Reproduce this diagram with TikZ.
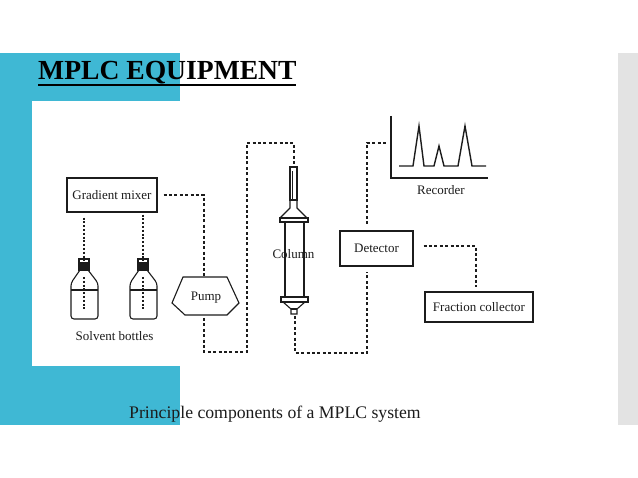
\documentclass[tikz,border=0pt]{standalone}
\usepackage{fontspec}
\setmainfont{Liberation Serif}
\definecolor{band}{HTML}{3FB8D4}
\definecolor{sidebar}{HTML}{E3E3E3}
\definecolor{ink}{HTML}{1C1C1C}
\tikzset{
	lbl/.style={inner sep=0pt, text=ink, font=\fontsize{13}{15}\selectfont},
	box/.style={draw=ink, line width=1.1pt, minimum height=#1, inner sep=0pt},
	link/.style={draw=ink, line width=1.1pt, dash pattern=on 3pt off 2.4pt},
	tight/.style={draw=ink, line width=1.5pt, dash pattern=on 2pt off 1.8pt},
	part/.style={draw=ink, line width=1.1pt}
}
\begin{document}
\begin{tikzpicture}[x=1pt,y=-1pt]
		\useasboundingbox (0,0) rectangle (638,478);

		% slide background
		\fill[white] (0,0) rectangle (638,478);
		\fill[band] (0,53) rectangle (180,101);
		\fill[band] (0,53) rectangle (32,425);
		\fill[band] (0,366) rectangle (180,425);
		\fill[sidebar] (618,53) rectangle (638,425);

		\node[anchor=base west, inner sep=0pt, font=\fontsize{27.6}{30}\selectfont\bfseries] (title) at (38,80) {MPLC EQUIPMENT};
		\draw[line width=2pt] (38,85) -- (296,85);
		\node[anchor=base west, inner sep=0pt, text=ink, font=\fontsize{17.7}{20}\selectfont] (caption) at (129,419) {Principle components of a MPLC system};

		% boxes
		\node[box=34pt, minimum width=90pt, lbl] (mixer) at (112,195) {Gradient mixer};
		\node[box=35pt, minimum width=73pt, lbl] (detector) at (376.5,248.5) {Detector};
		\node[box=30pt, minimum width=108pt, lbl] (collector) at (479,307) {Fraction collector};

		% pump
		\node[lbl] (pump) at (206,298) {Pump};
		\draw[part] (183,277) -- (227,277) -- (239,303) -- (227,315) -- (185,315) -- (172,303) -- cycle;
		\coordinate (pumpin) at (204,277);
		\coordinate (pumpout) at (204,318);

		% bottles
		\foreach \name/\x in {bottleA/84, bottleB/143} {
			\coordinate (\name) at (\x,259);
			\coordinate (\name low) at (\x,277);
			\coordinate (\name end) at (\x,310);
			\fill[ink] (\x-5,262) rectangle (\x+5,270);
			\draw[part] (\x-5,259) rectangle (\x+5,270);
			\draw[part, rounded corners=3pt] (\x-4,270) -- (\x-13,283) -- (\x-13,319) -- (\x+14,319) -- (\x+14,283) -- (\x+4,270);
			\draw[part] (\x-13,290) -- (\x+14,290);
			\draw[tight] (\name low) -- (\name end);
		}
		\node[lbl] (solvent) at (114.5,336) {Solvent bottles};

		% column
		\coordinate (coltop) at (294,165);
		\coordinate (colend) at (295,316);
		\draw[part] (290,167) rectangle (297,200);
		\draw[part] (292.5,171) -- (292.5,200);
		\draw[part] (290,200) -- (290,208) -- (280,218);
		\draw[part] (297,200) -- (297,208) -- (307,218);
		\draw[part] (280,218) rectangle (308,222);
		\draw[part] (285,222) -- (285,297);
		\draw[part] (304,222) -- (304,297);
		\draw[part] (281,297) rectangle (308,302);
		\draw[part] (283,302) -- (291,309) -- (291,314) -- (297,314) -- (297,309) -- (305,302);
		\draw[part] (291,309) -- (297,309);
		\node[lbl] (column) at (293.5,254) {Column};

		% recorder
		\draw[line width=1.3pt, draw=ink] (391,116) -- (391,178) -- (488,178);
		\draw[line width=1.4pt, draw=ink] (399,166) -- (413,166) -- (419,126) -- (424,166) -- (434,166) -- (439,146) -- (444,166) -- (458,166) -- (465,126) -- (472,166) -- (486,166);
		\coordinate (recorder) at (388,143);
		\node[lbl] (reclabel) at (441,190) {Recorder};

		% connectors
		\draw[tight, shorten <=5pt] (mixer.south -| bottleA) -- ([yshift=-2pt]bottleA);
		\draw[tight, shorten <=2pt] (mixer.south -| bottleB) -- ([yshift=-2pt]bottleB);
		\draw[link, shorten <=6pt] (mixer.east) -| (pumpin);
		\draw[link] (pumpout) -- (204,352) -- (247,352) -- (247,143) -- (294,143) -- (coltop);
		\draw[link, shorten >=5pt] (colend) -- (295,353) -- (367,353) -- (detector.south -| 367,0);
		\draw[link] (367,224) -- (367,143) -- (recorder);
		\draw[link, shorten <=10pt] (detector.east |- 0,246) -- (476,246) -- (476,287);
\end{tikzpicture}
\end{document}
